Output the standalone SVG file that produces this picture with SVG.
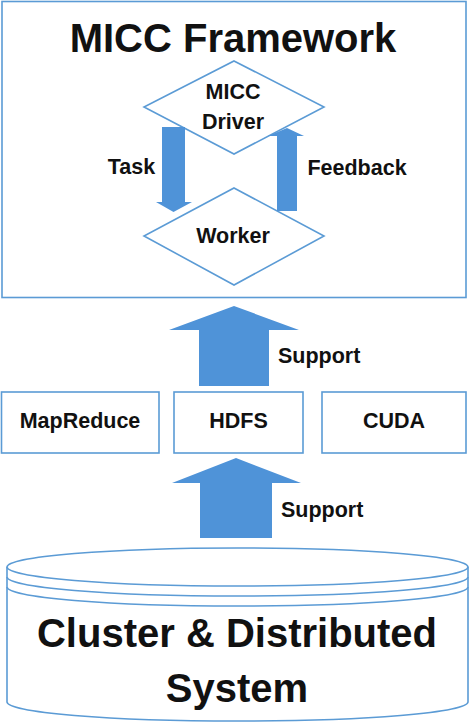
<svg xmlns="http://www.w3.org/2000/svg" width="474" height="728" viewBox="0 0 474 728">
<style>
.shape{fill:#ffffff;stroke:#5b9bd5;stroke-width:1.6}
.arrow{fill:#4f93d8;stroke:none}
text{font-family:"Liberation Sans",Arial,sans-serif;font-weight:bold;fill:#111111}
.title{font-size:40px}
.lbl{font-size:21.5px}
</style>
<rect width="474" height="728" fill="#ffffff"/>
<g id="framework">
<rect class="shape" x="2" y="1.5" width="464" height="296"/>
<text class="title" x="233" y="52" text-anchor="middle">MICC Framework</text>
</g>
<g id="driver">
<polygon class="shape" points="234,61 324,107 234,154 144,107"/>
<text class="lbl" x="233" y="99" text-anchor="middle">MICC</text>
<text class="lbl" x="233" y="129" text-anchor="middle">Driver</text>
</g>
<g id="worker">
<polygon class="shape" points="234,188 324,236 234,285 144,236"/>
<text class="lbl" x="233" y="243" text-anchor="middle">Worker</text>
</g>
<g id="mapreduce">
<rect class="shape" x="1.5" y="392" width="157.5" height="61"/>
<text class="lbl" x="80" y="428" text-anchor="middle">MapReduce</text>
</g>
<g id="hdfs">
<rect class="shape" x="174" y="392" width="129" height="61"/>
<text class="lbl" x="238.5" y="428" text-anchor="middle">HDFS</text>
</g>
<g id="cuda">
<rect class="shape" x="322" y="392" width="144" height="61"/>
<text class="lbl" x="394" y="428" text-anchor="middle">CUDA</text>
</g>
<g id="cluster">
<path class="shape" d="M7,567 L7,702 A230.5,19 0 0 0 468,702 L468,567"/>
<ellipse class="shape" cx="237.5" cy="567" rx="230.5" ry="19"/>
<path class="shape" fill="none" style="fill:none" d="M7,577 A230.5,19 0 0 0 468,577"/>
<path class="shape" style="fill:none" d="M7,587 A230.5,19 0 0 0 468,587"/>
<text class="title" x="237" y="647" text-anchor="middle">Cluster &amp; Distributed</text>
<text class="title" x="237" y="702" text-anchor="middle">System</text>
</g>
<g id="connectors">
<polygon class="arrow" points="162,127 185,127 185,202 192,202 173.5,212 156,202 162,202"/>
<text class="lbl" x="131.5" y="174" text-anchor="middle">Task</text>
<polygon class="arrow" points="277,211 297,211 297,136 304,136 287,128 268,136 277,136"/>
<text class="lbl" x="357" y="175" text-anchor="middle">Feedback</text>
<polygon class="arrow" points="199,386 269,386 269,330 299,330 234,306 169,330 199,330"/>
<text class="lbl" x="278" y="363">Support</text>
<polygon class="arrow" points="200,538 272,538 272,483 301,483 236,458 172,483 200,483"/>
<text class="lbl" x="281" y="517">Support</text>
</g>
</svg>
